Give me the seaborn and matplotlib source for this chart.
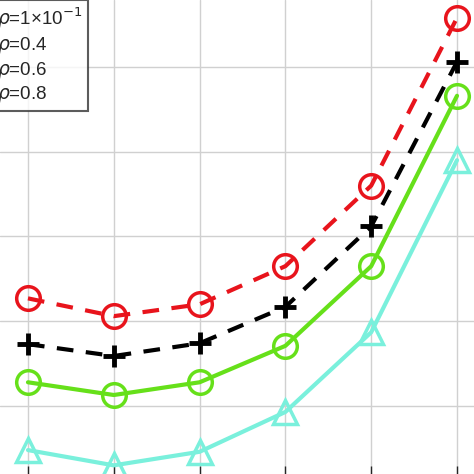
import matplotlib
matplotlib.use('Agg')
import matplotlib.pyplot as plt
from matplotlib.lines import Line2D
import seaborn as sns
import pandas as pd

x = [1, 2, 3, 4, 5, 6]
red = [2.27, 2.06, 2.20, 2.65, 3.60, 5.58]
black = [1.73, 1.59, 1.74, 2.17, 3.12, 5.06]
green = [1.28, 1.13, 1.28, 1.71, 2.65, 4.66]
cyan = [0.48, 0.30, 0.46, 0.93, 1.87, 3.90]
labels = [r'$\rho$=1×10$^{-1}$', r'$\rho$=0.4', r'$\rho$=0.6', r'$\rho$=0.8']

sns.set_style('white')
plt.rcParams['font.family'] = ['Liberation Sans', 'DejaVu Sans']
plt.rcParams['mathtext.fontset'] = 'dejavusans'

fig = plt.figure(figsize=(4.74, 4.74), dpi=100)
ax = fig.add_axes([0, 0, 1, 1])

styles = [
    (red, '#e8141c', (0, (4, 3)), 'o'),
    (black, '#000000', (0, (4, 3)), '+'),
    (green, '#66e01a', '-', 'o'),
    (cyan, '#7af0dc', '-', '^'),
]
handles = []
for vals, col, ls, mk in styles:
    df = pd.DataFrame({'x': x, 'y': vals})
    sns.lineplot(data=df, x='x', y='y', ax=ax, color=col, linestyle=ls, lw=3,
                 marker=mk, markersize=16 if mk == '+' else 17,
                 markerfacecolor='none', markeredgecolor=col,
                 markeredgewidth=3.5 if mk == '+' else 2.5)
    handles.append(Line2D([], [], color=col, linestyle=ls, lw=3))

ax.set_xlim(0.674, 6.198)
ax.set_ylim(0.198, 5.79)
ax.set_xticks(x)
ax.set_yticks([1, 2, 3, 4, 5])
ax.grid(True, color='#d0d0d0', lw=1)
ax.tick_params(axis='x', direction='in', length=6, width=1, labelbottom=False, bottom=True)
ax.tick_params(axis='y', left=False, labelleft=False)
ax.set_xlabel('')
ax.set_ylabel('')
for s in ax.spines.values():
    s.set_visible(False)

leg = ax.legend(handles, labels, loc='upper right', bbox_to_anchor=(88 / 474, 1.0),
                fontsize=13.5, frameon=True, fancybox=False, edgecolor='#333333',
                borderaxespad=0, borderpad=0.3, handlelength=2.0, handletextpad=0.5,
                labelspacing=0.2)
leg.get_frame().set_linewidth(1.5)

plt.savefig('out.png', dpi=100)
